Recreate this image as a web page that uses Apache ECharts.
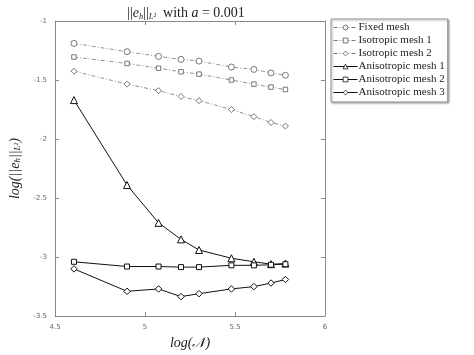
<!DOCTYPE html>
<html><head><meta charset="utf-8">
<script src="https://cdn.jsdelivr.net/npm/echarts@6/dist/echarts.min.js"></script>
<style>html,body{margin:0;padding:0;background:#fff}#c{width:474px;height:355px}</style>
</head><body><div id="c"></div>
<script>
const xVals = [4.605, 4.9, 5.075, 5.2, 5.3, 5.48, 5.605, 5.7, 5.78];
const fixedMesh = [-1.19, -1.26, -1.30, -1.325, -1.34, -1.39, -1.41, -1.44, -1.46];
const isoMesh1 = [-1.305, -1.36, -1.40, -1.43, -1.45, -1.50, -1.535, -1.56, -1.58];
const isoMesh2 = [-1.425, -1.535, -1.59, -1.64, -1.675, -1.75, -1.81, -1.86, -1.89];
const anisoMesh1 = [-1.67, -2.39, -2.71, -2.85, -2.94, -3.01, -3.04, -3.06, -3.055];
const anisoMesh2 = [-3.04, -3.08, -3.08, -3.085, -3.085, -3.07, -3.07, -3.065, -3.06];
const anisoMesh3 = [-3.10, -3.29, -3.27, -3.335, -3.31, -3.27, -3.25, -3.22, -3.19];
const seriesNames = ['Fixed mesh','Isotropic mesh 1','Isotropic mesh 2','Anisotropic mesh 1','Anisotropic mesh 2','Anisotropic mesh 3'];
const seriesData = [fixedMesh, isoMesh1, isoMesh2, anisoMesh1, anisoMesh2, anisoMesh3];
const symbols = ['circle','rect','diamond','triangle','rect','diamond'];
const symSizes = [6,4.5,6,7,5,6.5];

const chart = echarts.init(document.getElementById('c'));
const serif = '"Liberation Serif","DejaVu Serif",serif';
const series = seriesData.map((d,i)=>({
  name: seriesNames[i],
  type: 'line',
  data: d.map((v,j)=>[xVals[j], v]),
  symbol: symbols[i],
  symbolSize: symSizes[i],
  showAllSymbol: true,
  lineStyle: i<3 ? {color:'#777', width:0.8, type:[4,2,1,2]} : {color:'#111', width:1},
  itemStyle: {color:'#fff', borderColor: i<3 ? '#555' : '#111', borderWidth: i<3?0.8:1},
  animation:false
}));
const axisCommon = {
  axisLine:{show:true,onZero:false,lineStyle:{color:'#888',width:1}},
  axisTick:{show:true,inside:true,length:4,lineStyle:{color:'#888'}},
  splitLine:{show:false},
  axisLabel:{color:'#666',fontSize:7,fontFamily:'"DejaVu Sans",sans-serif'}
};
chart.setOption({
  animation:false,
  title:{
    text:'{n|||}{i|e}{s|h}{n|||}{s|L²}{n|  with }{i|a}{n| = 0.001}',
    left:181, top:1, textAlign:'center',
    textStyle:{fontWeight:'normal',rich:{
      n:{fontFamily:serif,fontSize:14,color:'#222',fontWeight:'normal'},
      i:{fontFamily:serif,fontSize:14,fontStyle:'italic',color:'#222',fontWeight:'normal'},
      s:{fontFamily:serif,fontSize:8.5,fontStyle:'italic',color:'#222',fontWeight:'normal',padding:[6,0,0,0]}
    }}
  },
  grid:{left:40,right:149,top:21,bottom:33},
  legend:{
    orient:'vertical', left:331, top:19,
    backgroundColor:'#fff', borderColor:'#999', borderWidth:1,
    padding:[3,3,4,2], itemGap:2, itemWidth:24, itemHeight:6,
    shadowColor:'rgba(0,0,0,0.35)', shadowBlur:2, shadowOffsetX:1, shadowOffsetY:1,
    lineStyle:{width:1}, itemStyle:{borderWidth:0.8},
    textStyle:{fontFamily:serif,fontSize:11,lineHeight:11,color:'#222',padding:[0,0,0,-4]},
    data: seriesNames
  },
  xAxis:[{
    type:'value', min:4.5, max:6, interval:0.5, position:'bottom',
    ...axisCommon,
    name:'log(𝒩)', nameLocation:'middle', nameGap:18,
    nameTextStyle:{fontFamily:serif,fontSize:14,fontStyle:'italic',color:'#222'}
  },{
    type:'value', min:4.5, max:6, interval:0.5, position:'top',
    ...axisCommon, axisLabel:{show:false}
  }],
  yAxis:[{
    type:'value', min:-3.5, max:-1, interval:0.5, position:'left',
    ...axisCommon,
    name:'{i|log(||e}{s|h}{i|||}{s|L²}{i|)}', nameLocation:'middle', nameGap:22, nameRotate:90,
    nameTextStyle:{rich:{
      i:{fontFamily:serif,fontSize:14,fontStyle:'italic',color:'#222'},
      s:{fontFamily:serif,fontSize:9,fontStyle:'italic',color:'#222',padding:[6,0,0,0]}
    }}
  },{
    type:'value', min:-3.5, max:-1, interval:0.5, position:'right',
    ...axisCommon, axisLabel:{show:false}
  }],
  series: series
});
</script></body></html>
